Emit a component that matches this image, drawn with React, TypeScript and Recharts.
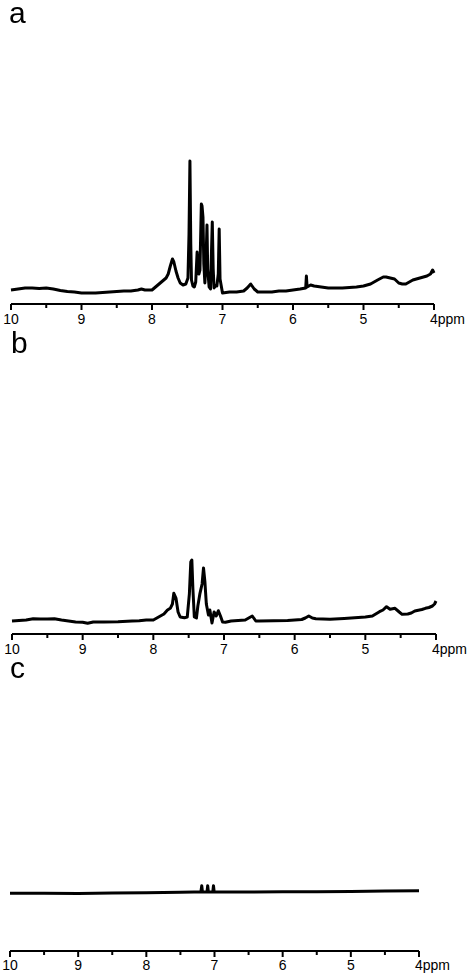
import { LineChart, Line, XAxis, YAxis } from "recharts";

// chemical shift (ppm) and intensity
const ppmA = [
  10.0, 9.9, 9.8, 9.7, 9.6, 9.5, 9.4, 9.3, 9.2, 9.1, 9.0, 8.9, 8.8, 8.7, 8.6, 8.5, 8.4, 8.3, 8.2, 8.15, 8.1, 8.05,
  8.0, 7.95, 7.9, 7.85, 7.8, 7.77, 7.74, 7.71, 7.69, 7.66, 7.63, 7.6, 7.56, 7.52, 7.49, 7.475, 7.462, 7.45, 7.44,
  7.42, 7.4, 7.38, 7.36, 7.35, 7.335, 7.32, 7.3, 7.29, 7.277, 7.265, 7.25, 7.235, 7.22, 7.21, 7.19, 7.17, 7.145,
  7.132, 7.12, 7.1, 7.08, 7.06, 7.047, 7.035, 7.0, 6.9, 6.8, 6.7, 6.65, 6.6, 6.55, 6.5, 6.4, 6.3, 6.2, 6.1, 6.0,
  5.9, 5.82, 5.81, 5.8, 5.75, 5.7, 5.6, 5.5, 5.4, 5.3, 5.2, 5.1, 5.0, 4.9, 4.85, 4.8, 4.72, 4.68, 4.62, 4.56, 4.5,
  4.45, 4.4, 4.35, 4.3, 4.2, 4.15, 4.1, 4.05, 4.02, 4.0,
];
const intA = [
  14, 15, 16, 16, 15.5, 16, 15, 13.5, 12.5, 12, 11, 11, 11, 11.5, 12, 12.5, 13, 13, 14, 15, 14, 14,
  14, 17, 20, 23, 26, 30, 38, 45, 42, 33, 26, 21, 19, 20, 26, 70, 143, 60, 24,
  18, 17, 22, 52, 40, 30, 34, 100, 98, 87, 40, 21, 40, 79, 35, 17, 15, 82,
  35, 16, 18, 18, 30, 75, 25, 11, 12, 12, 13, 16, 20, 15, 12, 12, 12, 13, 13, 14,
  15, 16, 28, 17, 19, 18, 17, 16, 16, 16, 16.5, 17, 18, 20, 22, 24, 27, 27, 26, 25, 21,
  20, 20, 22, 24, 26, 27, 28, 30, 34, 31,
];

const ppmB = [
  10.0, 9.9, 9.8, 9.7, 9.6, 9.5, 9.4, 9.3, 9.2, 9.1, 9.0, 8.93, 8.85, 8.7, 8.5, 8.3, 8.2, 8.1, 8.0, 7.95, 7.9,
  7.85, 7.8, 7.76, 7.73, 7.71, 7.68, 7.65, 7.62, 7.56, 7.52, 7.49, 7.47, 7.455, 7.44, 7.42, 7.39, 7.37, 7.34,
  7.31, 7.29, 7.27, 7.25, 7.22, 7.2, 7.17, 7.14, 7.11, 7.08, 7.05, 7.02, 6.98, 6.9, 6.8, 6.7, 6.65, 6.6, 6.55,
  6.5, 6.3, 6.1, 6.0, 5.9, 5.85, 5.8, 5.75, 5.7, 5.5, 5.3, 5.2, 5.0, 4.9, 4.8, 4.75, 4.7, 4.65, 4.58, 4.52, 4.48,
  4.4, 4.35, 4.3, 4.2, 4.15, 4.1, 4.05, 4.02, 4.0,
];
const intB = [
  13, 13.5, 14, 15.3, 15, 15, 15.3, 14, 13, 12, 11.7, 10.7, 12, 12, 12.3, 13, 13.3, 14, 14, 16, 18,
  20, 24, 25.7, 30, 40.7, 36, 22, 17, 16.3, 17, 40, 72, 74, 45, 17, 16, 28, 40.7,
  50, 66, 52, 30, 19, 24, 11, 22, 18, 23.3, 18, 12, 11.7, 13, 13.5, 14, 16, 18, 13,
  13, 13.3, 13.5, 14, 14.5, 16, 18, 16, 15.3, 14.7, 15.5, 16, 17, 18, 22.3, 24, 27.3, 24.7, 25.7, 22, 19.7,
  20, 21, 23, 24.5, 25.7, 26.5, 28, 30, 33,
];

const ppmC = [
  10.0, 9.5, 9.0, 8.5, 8.0, 7.5, 7.3, 7.2, 7.187, 7.177, 7.11, 7.1, 7.09, 7.025, 7.015, 7.005, 6.9, 6.5, 6.0,
  5.5, 5.0, 4.5, 4.0,
];
const intC = [
  57.7, 57.8, 57.5, 58, 58.2, 58.8, 59, 59, 65.3, 59, 59, 65.3, 59, 59, 65.3, 59, 59, 59, 59.2,
  59.3, 59.6, 60, 60.3,
];

const ppmTicks = [10, 9.5, 9, 8.5, 8, 7.5, 7, 6.5, 6, 5.5, 5, 4.5, 4];

const W = 474;
const FONT = "'Liberation Sans', Arial, sans-serif";

function zip(xs: number[], ys: number[]) {
  return xs.map((ppm, i) => ({ ppm, v: ys[i] }));
}

function PpmTick({ x, y, payload, labelOffset }: any) {
  const v = payload.value as number;
  const major = Number.isInteger(v);
  return (
    <g>
      <line x1={x} x2={x} y1={y} y2={y + (major ? 6 : 4)} stroke="#000" strokeWidth={2} />
      {major && (
        <text
          x={v === 4 ? x - 4 : x}
          y={y + labelOffset}
          textAnchor={v === 4 ? "start" : "middle"}
          fontFamily={FONT}
          fontSize={14}
          fill="#000"
        >
          {v === 4 ? "4ppm" : String(v)}
        </text>
      )}
    </g>
  );
}

function Spectrum({
  data,
  top,
  height,
  left,
  right,
  letter,
  letterX,
  letterY,
  labelOffset,
  lineWidth,
}: {
  data: { ppm: number; v: number }[];
  top: number;
  height: number;
  left: number;
  right: number;
  letter: string;
  letterX: number;
  letterY: number;
  labelOffset: number;
  lineWidth: number;
}) {
  return (
    <div style={{ position: "absolute", left: 0, top, width: W, height }}>
      <LineChart width={W} height={height} data={data} margin={{ top: height - 27 - 280, right, bottom: 0, left }}>
        <XAxis
          dataKey="ppm"
          type="number"
          domain={[4, 10]}
          reversed
          ticks={ppmTicks}
          interval={0}
          height={27}
          tickSize={0}
          tickMargin={0}
          tickLine={false}
          axisLine={{ stroke: "#000", strokeWidth: 2 }}
          tick={(p: any) => <PpmTick {...p} labelOffset={labelOffset} />}
        />
        <YAxis hide domain={[0, 280]} allowDataOverflow />
        <Line
          dataKey="v"
          type="linear"
          stroke="#000"
          strokeWidth={lineWidth}
          strokeLinejoin="round"
          dot={false}
          isAnimationActive={false}
        />
      </LineChart>
      {/* panel letter; line-height 20px puts the baseline ~20.5px below the box top */}
      <div style={{ position: "absolute", left: 0, top: letterY - 20.5, fontFamily: FONT, fontSize: 30, lineHeight: "20px", paddingLeft: letterX }}>
        {letter}
      </div>
    </div>
  );
}

export default function App() {
  return (
    <div style={{ position: "fixed", left: 0, top: 0, width: W, height: 978, background: "#fff" }}>
      <Spectrum data={zip(ppmA, intA)} top={0} height={331} left={11} right={40} letter="a" letterX={9} letterY={23} labelOffset={20} lineWidth={3} />
      <Spectrum data={zip(ppmB, intB)} top={331} height={330} left={12} right={38} letter="b" letterX={11} letterY={22} labelOffset={20} lineWidth={3} />
      <Spectrum data={zip(ppmC, intC)} top={661} height={317} left={10} right={55} letter="c" letterX={10} letterY={17} labelOffset={19} lineWidth={3} />
    </div>
  );
}
